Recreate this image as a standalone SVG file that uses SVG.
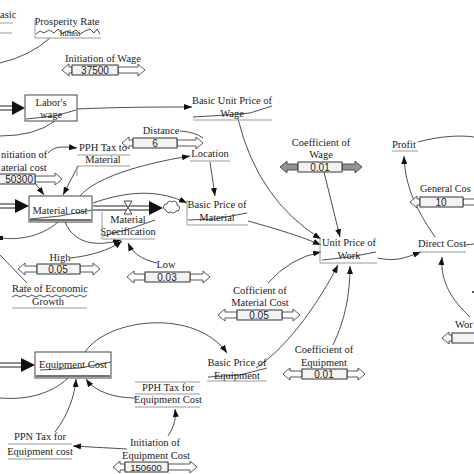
<svg xmlns="http://www.w3.org/2000/svg" width="474" height="474" viewBox="0 0 474 474">
<style>
.t{font-family:"Liberation Serif","Times New Roman",serif;font-size:10.5px;fill:#222;text-anchor:middle}
.ts{font-family:"Liberation Serif","Times New Roman",serif;font-size:10.5px;fill:#222}
.v{font-family:"Liberation Sans",Arial,sans-serif;font-size:10px;fill:#222;text-anchor:middle}
.c{fill:none;stroke:#222;stroke-width:0.8}
.ul{fill:none;stroke:#999;stroke-width:1}
.sc{fill:none;stroke:#222;stroke-width:0.8}
.box{fill:#fff;stroke:#444;stroke-width:1}
.sa{fill:#fff;stroke:#444;stroke-width:0.9}
.sg{fill:#8d978d;stroke:#444;stroke-width:0.9}
.sb{fill:#f3f3f3;stroke:#333;stroke-width:1}
.fl{fill:none;stroke:#222;stroke-width:1}
.fh{fill:#111}
</style>
<defs>
<marker id="ah" markerWidth="8" markerHeight="6" refX="8" refY="3" orient="auto" markerUnits="userSpaceOnUse"><path d="M0,0 L8,3 L0,6 z" fill="#111"/></marker>
</defs>

<g id="connectors">
<path class="c" d="M50,38 Q30,56 0,63"/>
<path class="c" d="M77,109 C120,107 160,107 192,107" marker-end="url(#ah)"/>
<path class="c" d="M55,121 Q35,136 0,136"/>
<path class="c" d="M238,119 Q258,200 321,239" marker-end="url(#ah)"/>
<path class="c" d="M180,131 Q195,132 203,138"/>
<path class="c" d="M80,196 C95,178 140,164 190,156" marker-end="url(#ah)"/>
<path class="c" d="M210,162 L215,196" marker-end="url(#ah)"/>
<path class="c" d="M93,203 C130,190 160,190 187,203" marker-end="url(#ah)"/>
<path class="c" d="M65,222 C75,246 100,246 121,240" marker-end="url(#ah)"/>
<path class="c" d="M58,222 C40,238 15,240 2,238"/>
<rect x="0" y="236" width="3" height="4" fill="#111"/>
<path class="c" d="M70,258 C90,256 110,250 122,241" marker-end="url(#ah)"/>
<path class="c" d="M157,263 C140,259 132,252 128,243" marker-end="url(#ah)"/>
<path class="c" d="M35,183 L44,195" marker-end="url(#ah)"/>
<path class="c" d="M78,166 L63,195" marker-end="url(#ah)"/>
<path class="c" d="M48,153 C55,145 65,147 77,148" marker-end="url(#ah)"/>
<path class="c" d="M0,255 L27,283"/>
<path class="c" d="M248,221 C280,230 300,236 321,245" marker-end="url(#ah)"/>
<path class="c" d="M324,172 L340,237" marker-end="url(#ah)"/>
<path class="c" d="M268,283 Q290,258 321,252" marker-end="url(#ah)"/>
<path class="c" d="M256,368 C290,345 320,300 338,265" marker-end="url(#ah)"/>
<path class="c" d="M333,345 C345,320 350,295 350,266" marker-end="url(#ah)"/>
<path class="c" d="M378,258 C395,262 405,258 421,252" marker-end="url(#ah)"/>
<path class="c" d="M435,237 C420,215 405,190 404,156" marker-end="url(#ah)"/>
<path class="c" d="M418,142 C440,136 460,135 474,137"/>
<path class="c" d="M465,245 L474,244"/>
<path class="c" d="M470,317 C452,300 440,282 442,257" marker-end="url(#ah)"/>
<circle cx="473" cy="292" r="1" fill="#222"/>
<path class="c" d="M85,352 C108,318 195,308 227,353" marker-end="url(#ah)"/>
<path class="c" d="M68,378 C50,395 25,400 0,398"/>
<path class="c" d="M135,398 C115,398 95,392 86,379" marker-end="url(#ah)"/>
<path class="c" d="M55,432 C68,415 75,395 76,379" marker-end="url(#ah)"/>
<path class="c" d="M127,449 L73,446" marker-end="url(#ah)"/>
<path class="c" d="M168,436 C175,425 176,418 175,409" marker-end="url(#ah)"/>
<path class="fl" d="M0,106 L14,106 M0,110 L14,110"/>
<polygon class="fh" points="12,101 25,108 12,115"/>
<path class="fl" d="M0,204 L17,204 M0,208 L17,208"/>
<polygon class="fh" points="15,199 29,206 15,213"/>
<path class="fl" d="M0,363 L23,363 M0,367 L23,367"/>
<polygon class="fh" points="21,358 35,365 21,372"/>
<path class="fl" d="M93,206 L152,206 M93,210 L152,210"/>
<polygon points="124,201 132,201 124,214 132,214" fill="#fff" stroke="#222" stroke-width="0.8"/>
<polygon class="fh" points="149,201 163,208 149,215"/>
<path d="M166,210 a3,3 0 0 1 1,-6 a3,3 0 0 1 5,-2 a3,3 0 0 1 5,3 a3,3 0 0 1 -1,6 a3,3 0 0 1 -5,1 a3,3 0 0 1 -5,-2 z" fill="#fff" stroke="#222" stroke-width="0.8"/>
</g>

<g id="basic-left">
<text class="ts" x="0" y="18">asic</text>
<path class="ul" d="M0,23 L13,23"/>
<path class="ul" d="M0,33 L12,33"/>
</g>

<g id="prosperity-rate">
<text class="t" x="67" y="25">Prosperity Rate</text>
<path class="sc" d="M36,34 L40,31 L44,33 L49,30 L54,33 L58,29 L62,34 L66,31 L71,33 L76,30 L80,34 L85,31 L90,29 L94,33 L97,29 L100,34"/>
<text class="t" x="70" y="36" style="font-size:8px">Inflasi</text>
<path class="ul" d="M35,20 L35,38 L101,38"/>
</g>

<g id="initiation-of-wage">
<text class="t" x="103" y="62">Initiation of Wage</text>
<polygon class="sa" points="62,70 69,64 69,67 72,67 72,73 69,73 69,76"/>
<polygon class="sa" points="145,70 138,64 138,67 118,67 118,73 138,73 138,76"/>
<rect class="sb" x="72" y="65" width="46" height="10"/>
<text class="v" x="95" y="74">37500</text>
</g>

<g id="labors-wage">
<rect class="box" x="25" y="95" width="52" height="26"/>
<text class="t" x="51" y="106">Labor's</text>
<text class="t" x="51" y="118">wage</text>
<path class="sc" d="M26,119 L55,116 L76,110"/>
</g>

<g id="basic-unit-price-of-wage">
<text class="t" x="232" y="104">Basic Unit Price of</text>
<text class="t" x="232" y="117">Wage</text>
<path class="sc" d="M193,117 L227,115 L250,113 L272,106"/>
<path class="ul" d="M193,120 L272,120"/>
</g>

<g id="distance">
<text class="t" x="161" y="134">Distance</text>
<polygon class="sa" points="122,143 129,137 129,140 133,140 133,146 129,146 129,149"/>
<polygon class="sa" points="203,143 196,137 196,140 177,140 177,146 196,146 196,149"/>
<rect class="sb" x="133" y="138" width="44" height="10"/>
<text class="v" x="155" y="147">6</text>
</g>

<g id="pph-tax-to-material">
<text class="t" x="103" y="151">PPH Tax to</text>
<text class="t" x="103" y="163">Material</text>
<path class="ul" d="M77,155 L130,155 M77,166 L130,166 M77,166 L77,176"/>
</g>

<g id="initiation-of-material-cost">
<text class="ts" x="1" y="158">nitiation of</text>
<text class="ts" x="1" y="171">aterial cost</text>
<polygon class="sa" points="62,179 55,173 55,176 35,176 35,182 55,182 55,185"/>
<rect class="sb" x="-5" y="174" width="40" height="10"/>
<text class="v" x="33" y="183" style="text-anchor:end">50300</text>
</g>

<g id="location">
<text class="t" x="210" y="157">Location</text>
<path class="ul" d="M190,161 L230,161"/>
</g>

<g id="material-cost">
<rect class="box" x="29" y="196" width="63" height="26"/>
<path d="M30,220 L91,220" stroke="#444" stroke-width="1.5"/>
<text class="t" x="60" y="214">Material cost</text>
<path class="sc" d="M30,219 L60,216 L92,210"/>
</g>

<g id="basic-price-of-material">
<text class="t" x="217" y="208">Basic Price of</text>
<text class="t" x="217" y="221">Material</text>
<path class="sc" d="M188,220 L215,219 L247,213"/>
<path class="ul" d="M187,200 L187,225 L248,225"/>
</g>

<g id="material-specification">
<text class="t" x="128" y="223">Material</text>
<text class="t" x="128" y="235">Specification</text>
<path class="sc" d="M103,236 Q130,230 155,220"/>
<path class="ul" d="M102,212 L102,239 L155,239"/>
</g>

<g id="high">
<text class="t" x="60" y="261">High</text>
<polygon class="sa" points="18,269 25,263 25,266 37,266 37,272 25,272 25,275"/>
<polygon class="sa" points="100,269 93,263 93,266 80,266 80,272 93,272 93,275"/>
<rect class="sb" x="37" y="264" width="43" height="10"/>
<text class="v" x="58" y="273">0.05</text>
</g>

<g id="low">
<text class="t" x="166" y="268">Low</text>
<polygon class="sa" points="127,277 134,271 134,274 145,274 145,280 134,280 134,283"/>
<polygon class="sa" points="210,277 203,271 203,274 190,274 190,280 203,280 203,283"/>
<rect class="sb" x="145" y="272" width="45" height="10"/>
<text class="v" x="167" y="281">0.03</text>
</g>

<g id="rate-of-economic-growth">
<text class="t" x="50" y="292">Rate of Economic</text>
<path class="sc" d="M12,297 L16,295 L20,297 L24,295 L28,297 L32,295 L36,297 L40,295 L44,297 L48,295 L52,297 L56,295 L60,297 L64,295 L68,297 L72,295 L76,297 L80,295 L84,297 L87,295"/>
<text class="t" x="48" y="305">Growth</text>
<path class="ul" d="M12,308 L87,308"/>
</g>

<g id="coefficient-of-wage">
<text class="t" x="321" y="146">Coefficient of</text>
<text class="t" x="321" y="158">Wage</text>
<polygon class="sg" points="280,167 287,161 287,164 298,164 298,170 287,170 287,173"/>
<polygon class="sg" points="362,167 355,161 355,164 342,164 342,170 355,170 355,173"/>
<rect class="sb" x="298" y="162" width="44" height="10"/>
<text class="v" x="320" y="171">0.01</text>
</g>

<g id="unit-price-of-work">
<text class="t" x="349" y="246">Unit Price of</text>
<text class="t" x="349" y="259">Work</text>
<path class="sc" d="M322,260 L350,257 L376,252"/>
<path class="ul" d="M320,238 L320,263 L377,263"/>
</g>

<g id="profit">
<text class="t" x="404" y="148">Profit</text>
<path class="ul" d="M392,151 L418,151"/>
</g>

<g id="general-cost">
<text class="ts" x="420" y="192" style="font-size:10.2px">General Cos</text>
<polygon class="sa" points="410,202 417,196 417,199 420,199 420,205 417,205 417,208"/>
<polygon class="sa" points="490,202 483,196 483,199 463,199 463,205 483,205 483,208"/>
<rect class="sb" x="420" y="197" width="43" height="10"/>
<text class="v" x="441" y="206">10</text>
</g>

<g id="direct-cost">
<text class="t" x="442" y="247">Direct Cost</text>
<path class="ul" d="M418,252 L466,252"/>
</g>

<g id="work-right">
<text class="ts" x="455" y="328">Wor</text>
<polygon class="sa" points="442,338 449,332 449,335 452,335 452,341 449,341 449,344"/>
<rect class="sb" x="452" y="333" width="30" height="10"/>
</g>

<g id="cofficient-of-material-cost">
<text class="t" x="260" y="294">Cofficient of</text>
<text class="t" x="260" y="306">Material Cost</text>
<polygon class="sa" points="218,315 225,309 225,312 237,312 237,318 225,318 225,321"/>
<polygon class="sa" points="300,315 293,309 293,312 282,312 282,318 293,318 293,321"/>
<rect class="sb" x="237" y="310" width="45" height="10"/>
<text class="v" x="259" y="319">0.05</text>
</g>

<g id="basic-price-of-equipment">
<text class="t" x="237" y="366">Basic Price of</text>
<text class="t" x="237" y="379">Equipment</text>
<path class="sc" d="M208,377 L240,375 L267,368"/>
<path class="ul" d="M207,381 L267,381"/>
</g>

<g id="coefficient-of-equipment">
<text class="t" x="324" y="353">Coefficient of</text>
<text class="t" x="324" y="366">Equipment</text>
<polygon class="sa" points="283,374 290,368 290,371 302,371 302,377 290,377 290,380"/>
<polygon class="sa" points="365,374 358,368 358,371 347,371 347,377 358,377 358,380"/>
<rect class="sb" x="302" y="369" width="45" height="10"/>
<text class="v" x="324" y="378">0.01</text>
</g>

<g id="equipment-cost">
<rect class="box" x="35" y="352" width="76" height="26"/>
<path d="M36,376 L110,376" stroke="#444" stroke-width="1.5"/>
<text class="t" x="73" y="368">Equipment Cost</text>
<path class="sc" d="M40,370 L80,368 L111,362"/>
</g>

<g id="pph-tax-for-equipment-cost">
<text class="t" x="168" y="391">PPH Tax for</text>
<text class="t" x="168" y="403">Equipment Cost</text>
<path class="ul" d="M135,382 L200,382 M135,394 L200,394 M135,407 L200,407"/>
</g>

<g id="ppn-tax-for-equipment-cost">
<text class="t" x="40" y="440">PPN Tax for</text>
<text class="t" x="40" y="455">Equipment cost</text>
<path class="ul" d="M8,444 L72,444 M8,459 L72,459"/>
</g>

<g id="initiation-of-equipment-cost">
<text class="t" x="155" y="446">Initiation of</text>
<text class="t" x="156" y="459">Equipment Cost</text>
<polygon class="sa" points="113,467 120,461 120,464 125,464 125,470 120,470 120,473"/>
<polygon class="sa" points="197,467 190,461 190,464 168,464 168,470 190,470 190,473"/>
<rect class="sb" x="125" y="462" width="43" height="10"/>
<text class="v" x="146" y="470.5" style="font-size:9.5px">150600</text>
</g>
</svg>
